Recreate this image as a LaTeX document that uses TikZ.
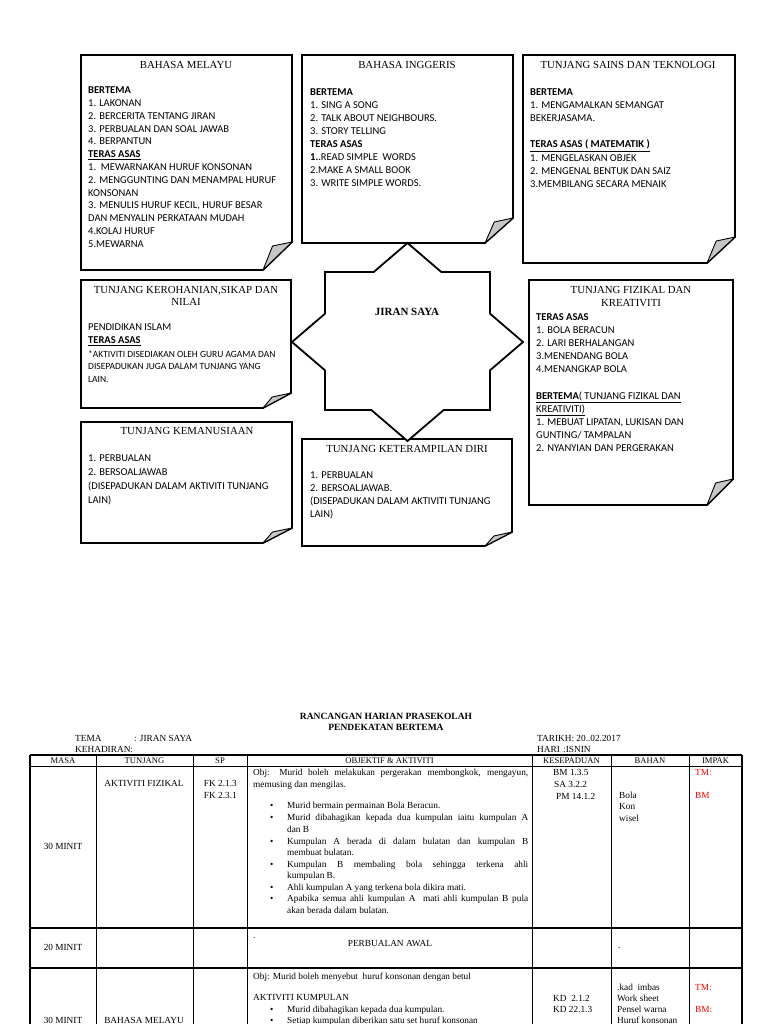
\documentclass[tikz,border=0pt]{standalone}
\usepackage{fontspec}
\setmainfont{Liberation Serif}
\newfontfamily\calfont{Carlito}
\newcommand\foldbox[6]{%
 \path[boxline] (#1,#2) -- (#3,#2) -- (#3,#4-#6) -- (#3-#5,#4) -- (#1,#4) -- cycle;
 \path[foldfill] (#3-#5,#4) .. controls (#3-0.85*#5,#4-0.4*#6) .. (#3-0.67*#5,#4-#6+4) -- (#3,#4-#6) -- cycle;
}
\tikzset{
 boxline/.style={draw=black, line width=1.8pt, fill=white, line join=miter},
 foldfill/.style={draw=black, line width=0.9pt, fill=gray!45, line join=round},
 starline/.style={draw=black, line width=1.8pt, fill=white, line join=miter},
 hdr/.style={font=\fontsize{10.8}{12.4}\selectfont, inner sep=0pt, align=center},
 body/.style={font=\calfont\fontsize{10.5}{12.8}\selectfont, inner sep=0pt, align=left, anchor=north west},
 tb/.style={font=\fontsize{9.3}{11.5}\selectfont, inner sep=0pt, anchor=mid west},
 tbc/.style={tb, anchor=mid},
 th/.style={font=\fontsize{8.6}{10}\selectfont, inner sep=0pt, anchor=mid},
 imp/.style={tb, text=red},
 tline/.style={line width=0.6pt},
 tthick/.style={line width=1.3pt},
}
\begin{document}
\begin{tikzpicture}[x=1pt,y=-1pt]
\useasboundingbox[fill=white] (0,0) rectangle (768,1024);

% ---------- folded-corner boxes ----------
\foldbox{81}{55}{292}{270}{29}{28}
\foldbox{302}{55}{513}{243}{28}{25}
\foldbox{523}{55}{735}{263}{28}{26}
\foldbox{81}{280}{291}{408}{28}{15}
\foldbox{529}{280}{733}{505}{26}{26}
\foldbox{81}{422}{292}{543}{29}{15}
\foldbox{302}{439}{512}{546}{27}{14}

% ---------- star ----------
\path[starline] (407.5,243) -- (441.3,272) -- (490,272) -- (490,313.7) -- (523,342)
  -- (490,370.3) -- (490,410) -- (443.7,410) -- (407.5,441) -- (371.3,410)
  -- (325,410) -- (325,370.3) -- (292,342) -- (325,313.7) -- (325,272)
  -- (373.7,272) -- cycle;
\node[font=\fontsize{11}{13}\selectfont\bfseries, inner sep=0pt] (jiran) at (407,312) {JIRAN SAYA};

% ---------- box 1 ----------
\node[hdr] (h1) at (186,65) {BAHASA MELAYU};
\node[body] (t1) at (88,86.6) {\textbf{BERTEMA}\\
1. LAKONAN\\
2. BERCERITA TENTANG JIRAN\\
3. PERBUALAN DAN SOAL JAWAB\\
4. BERPANTUN\\
\textbf{\underline{TERAS ASAS}}\\
1.\ \ MEWARNAKAN HURUF KONSONAN\\
2. MENGGUNTING DAN MENAMPAL HURUF\\
KONSONAN\\
3. MENULIS HURUF KECIL, HURUF BESAR\\
DAN MENYALIN PERKATAAN MUDAH\\
4.KOLAJ HURUF\\
5.MEWARNA};

% ---------- box 2 ----------
\node[hdr] (h2) at (407,65) {BAHASA INGGERIS};
\node[body, font=\calfont\fontsize{10.5}{13}\selectfont] (t2) at (310,88.6) {\textbf{BERTEMA}\\
1. SING A SONG\\
2. TALK ABOUT NEIGHBOURS.\\
3. STORY TELLING\\
\textbf{TERAS ASAS}\\
\textbf{1.}.READ SIMPLE\ \ WORDS\\
2.MAKE A SMALL BOOK\\
3. WRITE SIMPLE WORDS.};

% ---------- box 3 ----------
\node[hdr] (h3) at (628,65) {TUNJANG SAINS DAN TEKNOLOGI};
\node[body, font=\calfont\fontsize{10.5}{13.1}\selectfont] (t3) at (530,88.6) {\textbf{BERTEMA}\\
1. MENGAMALKAN SEMANGAT\\
BEKERJASAMA.\\[13pt]
\textbf{\underline{TERAS ASAS ( MATEMATIK )}}\\
1. MENGELASKAN OBJEK\\
2. MENGENAL BENTUK DAN SAIZ\\
3.MEMBILANG SECARA MENAIK};

% ---------- box 4 ----------
\node[hdr] (h4) at (186,296) {TUNJANG KEROHANIAN,SIKAP DAN\\NILAI};
\node[body] (t4) at (88,323.9) {PENDIDIKAN ISLAM\\
\textbf{\underline{TERAS ASAS}}};
\node[body, font=\calfont\fontsize{9.5}{12.6}\selectfont] (t4b) at (88,350.2) {*AKTIVITI DISEDIAKAN OLEH GURU AGAMA DAN\\
DISEPADUKAN JUGA DALAM TUNJANG YANG\\
LAIN.};

% ---------- box 5 ----------
\node[hdr] (h5) at (631,296.5) {TUNJANG FIZIKAL DAN\\KREATIVITI};
\node[body, font=\calfont\fontsize{10.5}{12.9}\selectfont] (t5) at (536,313.9) {\textbf{TERAS ASAS}\\
1. BOLA BERACUN\\
2. LARI BERHALANGAN\\
3.MENENDANG BOLA\\
4.MENANGKAP BOLA\\[14pt]
\underline{\textbf{BERTEMA}( TUNJANG FIZIKAL DAN}\\
\underline{KREATIVITI)}\\
1. MEBUAT LIPATAN, LUKISAN DAN\\
GUNTING/ TAMPALAN\\
2. NYANYIAN DAN PERGERAKAN};

% ---------- box 6 ----------
\node[hdr] (h6) at (187,431) {TUNJANG KEMANUSIAAN};
\node[body, font=\calfont\fontsize{10.5}{13.9}\selectfont] (t6) at (88,454.9) {1. PERBUALAN\\
2. BERSOALJAWAB\\
(DISEPADUKAN DALAM AKTIVITI TUNJANG\\
LAIN)};

% ---------- box 7 ----------
\node[hdr] (h7) at (407,448.5) {TUNJANG KETERAMPILAN DIRI};
\node[body, font=\calfont\fontsize{10.5}{13.1}\selectfont] (t7) at (310,471.6) {1. PERBUALAN\\
2. BERSOALJAWAB.\\
(DISEPADUKAN DALAM AKTIVITI TUNJANG\\
LAIN)};

% ---------- table heading ----------
\node[font=\fontsize{9.5}{11.5}\selectfont\bfseries, inner sep=0pt, align=center] (title) at (386,722) {RANCANGAN HARIAN PRASEKOLAH\\PENDEKATAN BERTEMA};
\node[tb] (tema) at (75,739.5) {TEMA};
\node[tb] (temav) at (134,739.5) {: JIRAN SAYA};
\node[tb] (hadir) at (75,750.5) {KEHADIRAN:};
\node[tb] (tarikh) at (537,739.5) {TARIKH: 20..02.2017};
\node[tb] (hari) at (537,750.5) {HARI};
\node[tb] (hariv) at (563,750.5) {:ISNIN};

% ---------- table grid ----------
\foreach \xx in {96,193,247,532,611,689} \draw[tline] (\xx,755) -- (\xx,1024);
\draw[tthick] (30,755) -- (30,1024);
\draw[tthick] (742,755) -- (742,1024);
\draw[tthick] (30,755) -- (742,755);
\draw[tline] (30,766.5) -- (742,766.5);
\draw[tthick] (30,928) -- (742,928);
\draw[tthick] (30,968) -- (742,968);

% header row
\node[th] (c1) at (63,761.6) {MASA};
\node[th] (c2) at (144.5,761.6) {TUNJANG};
\node[th] (c3) at (220,761.6) {SP};
\node[th] (c4) at (389.5,761.6) {OBJEKTIF \& AKTIVITI};
\node[th] (c5) at (571.5,761.6) {KESEPADUAN};
\node[th] (c6) at (650,761.6) {BAHAN};
\node[th] (c7) at (715.5,761.6) {IMPAK};

% row 1
\node[tbc] (r1a) at (63,847) {30 MINIT};
\node[tbc] (r1b) at (144,784) {AKTIVITI FIZIKAL};
\node[tb, anchor=mid east] (r1c1) at (237,784) {FK 2.1.3};
\node[tb, anchor=mid east] (r1c2) at (237,796) {FK 2.3.1};
\node[tb] (o1) at (253,773) {\makebox[275pt][s]{Obj: Murid boleh melakukan pergerakan membongkok, mengayun,}};
\node[tb] (o2) at (253,785.5) {memusing dan mengilas.};
\node[tb] (bb1) at (270,806) {\textbullet};
\node[tb] (o3) at (287,806) {Murid bermain permainan Bola Beracun.};
\node[tb] (bb2) at (270,818) {\textbullet};
\node[tb] (o4) at (287,818) {\makebox[241pt][s]{Murid dibahagikan kepada dua kumpulan iaitu kumpulan A}};
\node[tb] (o5) at (287,830) {dan B};
\node[tb] (bb3) at (270,842) {\textbullet};
\node[tb] (o6) at (287,842) {\makebox[241pt][s]{Kumpulan A berada di dalam bulatan dan kumpulan B}};
\node[tb] (o7) at (287,853.5) {membuat bulatan.};
\node[tb] (bb4) at (270,865) {\textbullet};
\node[tb] (o8) at (287,865) {\makebox[241pt][s]{Kumpulan B membaling bola sehingga terkena ahli}};
\node[tb] (o9) at (287,876.5) {kumpulan B.};
\node[tb] (bb5) at (270,888) {\textbullet};
\node[tb] (o10) at (287,888) {Ahli kumpulan A yang terkena bola dikira mati.};
\node[tb] (bb6) at (270,899.5) {\textbullet};
\node[tb] (o11) at (287,899.5) {\makebox[241pt][s]{Apabika semua ahli kumpulan A\ \ mati ahli kumpulan B pula}};
\node[tb] (o12) at (287,911) {akan berada dalam bulatan.};
\node[tb] (k1) at (553,773) {BM 1.3.5};
\node[tb] (k2) at (554,785) {SA 3.2.2};
\node[tb] (k3) at (556,797) {PM 14.1.2};
\node[tb] (m1) at (619,796) {Bola};
\node[tb] (m2) at (619,807.5) {Kon};
\node[tb] (m3) at (619,819) {wisel};
\node[imp] (i1) at (695,773) {TM:};
\node[imp] (i2) at (695,796) {BM};

% row 2
\node[tbc] (r2a) at (63,948.5) {20 MINIT};
\node[tb] (r2dot) at (253,936) {.};
\node[tbc] (r2o) at (390,944) {PERBUALAN AWAL};
\node[tb] (r2dot2) at (618,946) {.};

% row 3
\node[tb] (p1) at (253,977) {Obj: Murid boleh menyebut\ \ huruf konsonan dengan betul};
\node[tb] (p2) at (253,998) {AKTIVITI KUMPULAN};
\node[tb] (pb1) at (270,1010) {\textbullet};
\node[tb] (p3) at (287,1010) {Murid dibahagikan kepada dua kumpulan.};
\node[tb] (pb2) at (270,1021.5) {\textbullet};
\node[tb] (p4) at (287,1021.5) {Setiap kumpulan diberikan satu set huruf konsonan};
\node[tb] (kd1) at (553,999) {KD\ \ 2.1.2};
\node[tb] (kd2) at (553,1010) {KD 22.1.3};
\node[tb] (n1) at (617,988) {.kad\ \ imbas};
\node[tb] (n2) at (617,999) {Work sheet};
\node[tb] (n3) at (617,1010) {Pensel warna};
\node[tb] (n4) at (617,1021) {Huruf konsonan};
\node[imp] (j1) at (695,988) {TM:};
\node[imp] (j2) at (695,1010) {BM:};
\node[tbc] (r3a) at (63,1021.5) {30 MINIT};
\node[tbc] (r3b) at (144,1021.5) {BAHASA MELAYU};
\end{tikzpicture}
\end{document}
